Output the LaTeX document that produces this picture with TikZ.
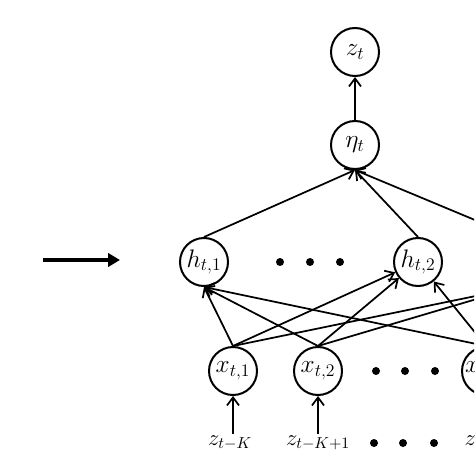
\documentclass[tikz,border=0pt]{standalone}
\usepackage{fix-cm}
\usetikzlibrary{arrows.meta}
\begin{document}
\begin{tikzpicture}[x=0.75pt,y=-0.75pt,
  unit/.style={draw,circle,line width=1.5pt,minimum size=36pt,inner sep=0pt,font=\fontsize{19}{22}\selectfont},
  lbl/.style={inner sep=1pt,font=\fontsize{17}{20}\selectfont},
  conn/.style={line width=1.3pt,-{Straight Barb[length=6pt,width=9pt,line width=1.3pt]}}]
  \useasboundingbox (0,0) rectangle (474,474);
  \clip (0,0) rectangle (474,474);
  % big arrow on the left
  \coordinate (in0) at (43,260);
  \coordinate (in1) at (120,260);
  \draw[line width=3pt,-{Triangle[length=9pt,width=10pt]}] (in0) -- (in1);
  % output and hidden layer
  \node[unit] (zt) at (355,52) {$z_t$};
  \node[unit] (eta) at (355,145) {$\eta_t$};
  \node[unit] (h1) at (204,262) {$h_{t,1}$};
  \node[unit] (h2) at (418,262) {$h_{t,2}$};
  \node[unit] (h3) at (512,262) {$h_{t,M}$};
  % inputs
  \node[unit] (x1) at (233,371) {$x_{t,1}$};
  \node[unit] (x2) at (318,371) {$x_{t,2}$};
  \node[unit] (x3) at (486,371) {$x_{t,K}$};
  \node[lbl] (z1) at (230,443) {$z_{t-K}$};
  \node[lbl] (z2) at (318,443) {$z_{t-K+1}$};
  \node[lbl,anchor=west] (z3) at (463,443) {$z_{t-1}$};
  % dots
  \foreach \px in {280,310,340} \fill (\px,262) circle (3pt);
  \foreach \px in {376,405,435} \fill (\px,371) circle (3pt);
  \foreach \px in {374,403,434} \fill (\px,443) circle (3pt);
  % connections
  \draw[conn] (eta) -- (zt);
  \foreach \h in {h1,h2,h3} \draw[conn] (\h.north) -- (eta.south);
  \foreach \x in {x1,x2,x3} {
    \draw[conn] (\x.north) -- (h1.south);
    \draw[conn] (\x.north) -- (h2);
    \draw[conn] (\x.north) -- (h3.south);
  }
  \draw[conn] (z1.north -| x1) -- (x1);
  \draw[conn] (z2.north -| x2) -- (x2);
  \draw[conn] (z3.north -| x3) -- (x3);
\end{tikzpicture}
\end{document}
